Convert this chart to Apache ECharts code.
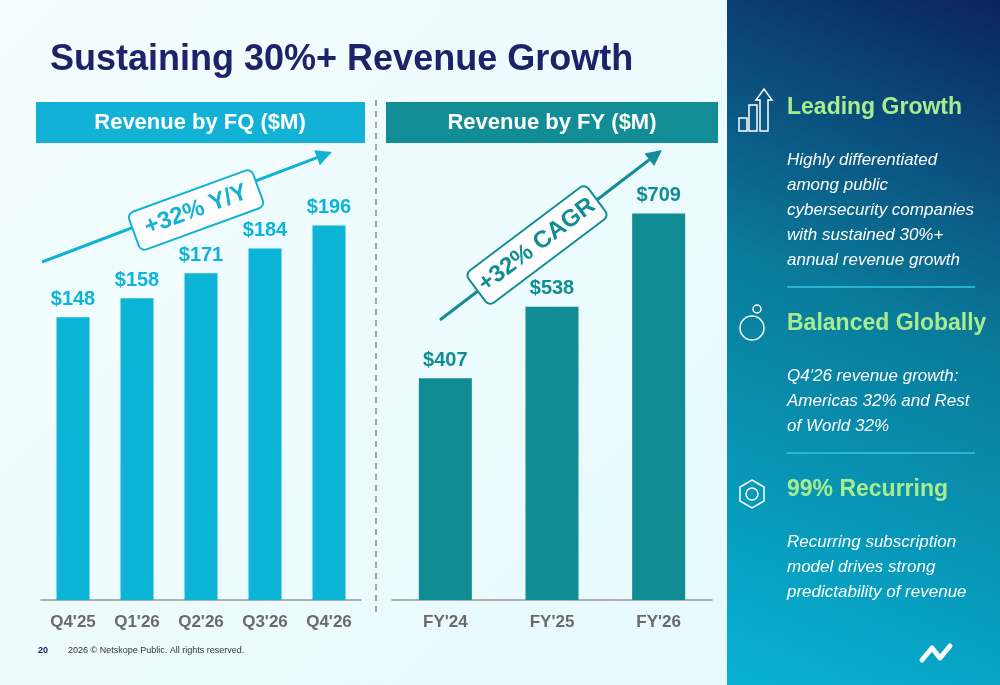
<!DOCTYPE html><html><head><meta charset="utf-8"><script src="https://cdn.jsdelivr.net/npm/echarts@6/dist/echarts.min.js"></script>
<style>body{margin:0}#c{width:1000px;height:685px}</style></head><body><div id="c"></div><script>
const fqCats=["Q4'25","Q1'26","Q2'26","Q3'26","Q4'26"];
const fqVals=[148,158,171,184,196];
const fyCats=["FY'24","FY'25","FY'26"];
const fyVals=[407,538,709];
const F='Liberation Sans, Arial, sans-serif';
const ch=echarts.init(document.getElementById('c'));
function box(cx,cy,w,h,rot,txt,col){return {type:'group',x:cx,y:cy,rotation:rot*Math.PI/180,children:[
 {type:'rect',shape:{x:-w/2,y:-h/2,width:w,height:h,r:6},style:{fill:'#fff',stroke:col,lineWidth:2}},
 {type:'text',style:{text:txt,x:0,y:0,align:'center',verticalAlign:'middle',font:'bold 24px '+F,fill:col}}]};}
function arrow(x1,y1,x2,y2,col){const a=Math.atan2(y2-y1,x2-x1),L=16;return [
 {type:'line',shape:{x1,y1,x2:x2-L*Math.cos(a),y2:y2-L*Math.sin(a)},style:{stroke:col,lineWidth:3}},
 {type:'polygon',shape:{points:[[x2,y2],[x2-L*Math.cos(a)+8*Math.sin(a),y2-L*Math.sin(a)-8*Math.cos(a)],[x2-L*Math.cos(a)-8*Math.sin(a),y2-L*Math.sin(a)+8*Math.cos(a)]]},style:{fill:col}}];}
const wt='#fff';
const g=[
 {type:'rect',z:-10,shape:{x:0,y:0,width:727,height:685},style:{fill:new echarts.graphic.LinearGradient(0,0,1,1,[{offset:0,color:'#f4fdff'},{offset:1,color:'#e6f9fd'}])}},
 {type:'rect',z:-10,shape:{x:727,y:0,width:273,height:685},style:{fill:new echarts.graphic.LinearGradient(0,1,1,0,[{offset:0,color:'#06b2d4'},{offset:0.55,color:'#0a7b9a'},{offset:1,color:'#0b2360'}])}},
 {type:'text',style:{text:'Sustaining 30%+ Revenue Growth',x:50,y:60,verticalAlign:'middle',font:'bold 36px '+F,fill:'#1b2468'}},
 {type:'rect',shape:{x:36,y:102,width:329,height:41},style:{fill:'#12b2d6'}},
 {type:'text',style:{text:'Revenue by FQ ($M)',x:200,y:123,align:'center',verticalAlign:'middle',font:'bold 22px '+F,fill:'#fff'}},
 {type:'rect',shape:{x:386,y:102,width:332,height:41},style:{fill:'#128d95'}},
 {type:'text',style:{text:'Revenue by FY ($M)',x:552,y:123,align:'center',verticalAlign:'middle',font:'bold 22px '+F,fill:'#fff'}},
 {type:'line',shape:{x1:376,y1:100,x2:376,y2:612},style:{stroke:'#888',lineWidth:1.5,lineDash:[6,5]}},
 ...arrow(42,262,332,152,'#12b2d6'),
 box(196,210,132,40,20,'+32% Y/Y','#12b2d6'),
 ...arrow(440,320,662,150,'#128d95'),
 box(537,245,150,40,37,'+32% CAGR','#128d95'),
 {type:'text',style:{text:'20',x:38,y:651,verticalAlign:'middle',font:'bold 9px '+F,fill:'#1b2468'}},
 {type:'text',style:{text:'2026 © Netskope Public. All rights reserved.',x:68,y:651,verticalAlign:'middle',font:'9px '+F,fill:'#333'}},
 {type:'text',style:{text:'Leading Growth',x:787,y:108,verticalAlign:'middle',font:'bold 23px '+F,fill:'#a8ec8e'}},
 {type:'text',style:{text:'Highly differentiated\namong public\ncybersecurity companies\nwith sustained 30%+\nannual revenue growth',x:787,y:148,lineHeight:25,font:'italic 17px '+F,fill:'#fff'}},
 {type:'line',shape:{x1:787,y1:287,x2:975,y2:287},style:{stroke:'#33c6e6',lineWidth:1.5}},
 {type:'text',style:{text:'Balanced Globally',x:787,y:324,verticalAlign:'middle',font:'bold 23px '+F,fill:'#a8ec8e'}},
 {type:'text',style:{text:"Q4'26 revenue growth:\nAmericas 32% and Rest\nof World 32%",x:787,y:364,lineHeight:25,font:'italic 17px '+F,fill:'#fff'}},
 {type:'line',shape:{x1:787,y1:453,x2:975,y2:453},style:{stroke:'#33c6e6',lineWidth:1.5}},
 {type:'text',style:{text:'99% Recurring',x:787,y:490,verticalAlign:'middle',font:'bold 23px '+F,fill:'#a8ec8e'}},
 {type:'text',style:{text:'Recurring subscription\nmodel drives strong\npredictability of revenue',x:787,y:530,lineHeight:25,font:'italic 17px '+F,fill:'#fff'}},
 {type:'rect',shape:{x:739,y:118,width:8,height:13},style:{fill:null,stroke:wt,lineWidth:1.5}},
 {type:'rect',shape:{x:749,y:105,width:8,height:26},style:{fill:null,stroke:wt,lineWidth:1.5}},
 {type:'polygon',shape:{points:[[760,131],[760,100],[756,100],[764,89],[772,100],[768,100],[768,131]]},style:{fill:null,stroke:wt,lineWidth:1.5}},
 {type:'circle',shape:{cx:752,cy:328,r:12},style:{fill:null,stroke:wt,lineWidth:1.5}},
 {type:'circle',shape:{cx:757,cy:309,r:4},style:{fill:null,stroke:wt,lineWidth:1.5}},
 {type:'polygon',shape:{points:[[752,480],[764,487],[764,501],[752,508],[740,501],[740,487]]},style:{fill:null,stroke:wt,lineWidth:1.5}},
 {type:'circle',shape:{cx:752,cy:494,r:6},style:{fill:null,stroke:wt,lineWidth:1.5}},
 {type:'polyline',shape:{points:[[922,660],[932,648],[940,658],[950,646]]},style:{stroke:wt,lineWidth:5,lineCap:'round',lineJoin:'round'}}
];
const lbl=c=>({show:true,position:'top',distance:8,formatter:'${c}',fontFamily:F,fontWeight:'bold',fontSize:20,color:c});
const xa=(i,d)=>({type:'category',gridIndex:i,data:d,axisTick:{show:false},axisLine:{lineStyle:{color:'#999',width:1.5}},axisLabel:{fontFamily:F,fontWeight:'bold',fontSize:17,color:'#6a6a6a',margin:14}});
ch.setOption({animation:false,
 grid:[{left:41,width:320,top:140,height:460},{left:392,width:320,top:140,height:460}],
 xAxis:[xa(0,fqCats),xa(1,fyCats)],
 yAxis:[{gridIndex:0,min:0,max:240.8,show:false,splitLine:{show:false}},{gridIndex:1,min:0,max:844,show:false,splitLine:{show:false}}],
 series:[{type:'bar',data:fqVals,barWidth:33,itemStyle:{color:'#0cb4d8'},label:lbl('#0cb4d8')},
  {type:'bar',xAxisIndex:1,yAxisIndex:1,data:fyVals,barWidth:53,itemStyle:{color:'#0f8d93'},label:lbl('#0f8d93')}],
 graphic:g});
</script></body></html>
